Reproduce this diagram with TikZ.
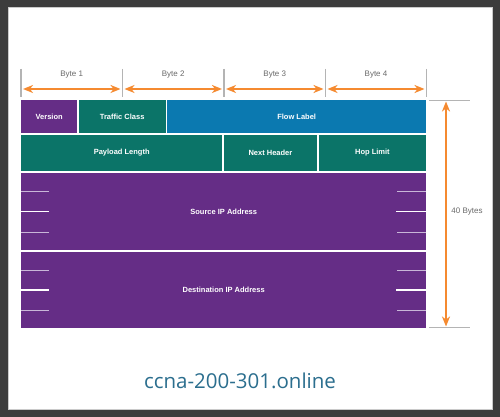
\documentclass[tikz,border=0pt]{standalone}
\usepackage{fontspec}
\setmainfont{Liberation Sans}
\newfontfamily\wmfont{Open Sans}
\usetikzlibrary{arrows.meta}
\definecolor{frame}{HTML}{3C3C3C}
\definecolor{fpurple}{HTML}{652D86}
\definecolor{fteal}{HTML}{0B7468}
\definecolor{fblue}{HTML}{0B79B0}
\definecolor{forange}{HTML}{F58A30}
\definecolor{tickgray}{HTML}{B4B4B4}
\definecolor{labgray}{HTML}{6A6A6A}
\definecolor{lav}{HTML}{C8B6D8}
\definecolor{wm}{HTML}{2B6E8E}
\begin{document}
\begin{tikzpicture}[x=1pt,y=-1pt,
  field/.style={anchor=north west,inner sep=0pt,text=white,font=\bfseries\fontsize{7.5}{8}\selectfont,align=center},
  bytetick/.style={draw=tickgray,line width=1.2pt},
  bytearrow/.style={draw=forange,line width=1.8pt,{Stealth[length=10pt,width=8pt,inset=3pt]}-{Stealth[length=10pt,width=8pt,inset=3pt]},shorten <=2pt,shorten >=2pt},
  bytelabel/.style={text=labgray,font=\fontsize{8}{9}\selectfont,inner sep=0pt},
  minor/.style={draw=lav,line width=0.8pt},
  major/.style={draw=white,line width=1.2pt}]
\useasboundingbox (0,0) rectangle (500,417);
\fill[frame] (0,0) rectangle (500,417);
\fill[white] (8,7) rectangle (492,409);
\draw[tickgray!70,line width=0.6pt] (8,7) rectangle (492,409);
% byte ticks
\foreach \n/\x in {0/21,1/122.5,2/224,3/325.5,4/426.5}{
  \coordinate (t\n) at (\x,89);
  \draw[bytetick] (\x,69) -- (\x,97);
}
\draw[bytearrow] (t0) -- (t1);
\draw[bytearrow] (t1) -- (t2);
\draw[bytearrow] (t2) -- (t3);
\draw[bytearrow] (t3) -- (t4);
\node[bytelabel] (b1) at (71.75,75) {Byte 1};
\node[bytelabel] (b2) at (173.25,75) {Byte 2};
\node[bytelabel] (b3) at (274.75,75) {Byte 3};
\node[bytelabel] (b4) at (376,75) {Byte 4};
% row 1
\node[field,fill=fpurple,minimum width=56pt,minimum height=33pt] (ver) at (21,100) {Version};
\node[field,fill=fteal,minimum width=87pt,minimum height=33pt] (tc) at (78.5,100) {Traffic Class};
\node[field,fill=fblue,minimum width=259pt,minimum height=33pt] (fl) at (167,100) {Flow Label};
% row 2
\node[field,fill=fteal,minimum width=201pt,minimum height=36.5pt] (pl) at (21,134.5) {Payload Length};
\node[field,fill=fteal,minimum width=93.5pt,minimum height=36.5pt] (nh) at (223.5,134.5) {Next Header};
\node[field,fill=fteal,minimum width=107.5pt,minimum height=36.5pt] (hl) at (318.5,134.5) {Hop Limit};
% rows 3 and 4
\node[field,fill=fpurple,minimum width=405pt,minimum height=77.5pt] (src) at (21,172.5) {Source IP Address};
\node[field,fill=fpurple,minimum width=405pt,minimum height=76.5pt] (dst) at (21,251.5) {Destination IP Address};
\foreach \y in {191,232,270,310}{
  \draw[minor] (21,\y) -- (49,\y);
  \draw[minor] (397,\y) -- (426,\y);
}
\foreach \y in {211.5,290}{
  \draw[major] (21,\y) -- (49,\y);
  \draw[major] (396,\y) -- (426,\y);
}
% 40 bytes
\draw[bytetick] (429,100.5) -- (470,100.5);
\draw[bytetick] (429,327.5) -- (470,327.5);
\coordinate (vt) at (446,100.5);
\coordinate (vb) at (446,327.5);
\draw[bytearrow,shorten <=1pt,shorten >=1pt] (vt) -- (vb);
\node[bytelabel] (fb) at (467,211.5) {40 Bytes};
% watermark
\node[text=wm,font=\wmfont\fontsize{20.5}{24}\selectfont,inner sep=0pt] (wmark) at (240,381) {ccna-200-301.online};
\end{tikzpicture}
\end{document}
